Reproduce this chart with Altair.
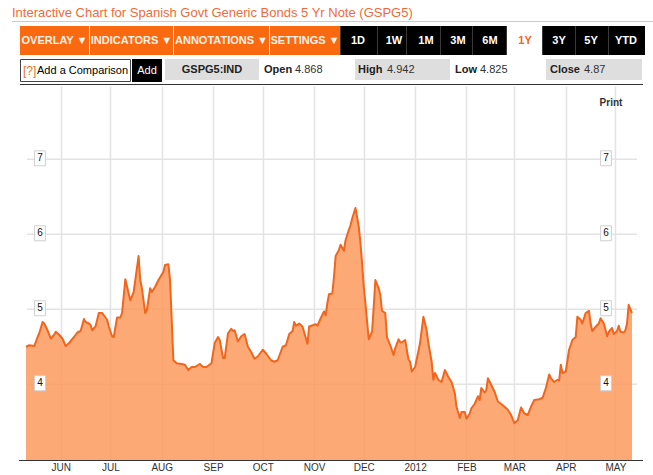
import altair as alt
import pandas as pd

# ---------------- data ----------------
dates = [
    "2011-05-11", "2011-05-13", "2011-05-16", "2011-05-18", "2011-05-19", "2011-05-21", "2011-05-22", "2011-05-24", "2011-05-26", "2011-05-28", "2011-05-29", "2011-05-31",
    "2011-06-02", "2011-06-04", "2011-06-06", "2011-06-09", "2011-06-11", "2011-06-13", "2011-06-15", "2011-06-16", "2011-06-18", "2011-06-19", "2011-06-20", "2011-06-22", "2011-06-24", "2011-06-26", "2011-06-29", "2011-06-30",
    "2011-07-02", "2011-07-03", "2011-07-05", "2011-07-07", "2011-07-08", "2011-07-10", "2011-07-12", "2011-07-13", "2011-07-15", "2011-07-16", "2011-07-18", "2011-07-19", "2011-07-20", "2011-07-22", "2011-07-23", "2011-07-25", "2011-07-26", "2011-07-28", "2011-07-30",
    "2011-08-02", "2011-08-03", "2011-08-05", "2011-08-06", "2011-08-07", "2011-08-08", "2011-08-10", "2011-08-13", "2011-08-15", "2011-08-17", "2011-08-19", "2011-08-21", "2011-08-24", "2011-08-26", "2011-08-28", "2011-08-31",
    "2011-09-02", "2011-09-04", "2011-09-05", "2011-09-07", "2011-09-08", "2011-09-10", "2011-09-12", "2011-09-13", "2011-09-14", "2011-09-16", "2011-09-18", "2011-09-20", "2011-09-22", "2011-09-24", "2011-09-26", "2011-09-28",
    "2011-10-01", "2011-10-03", "2011-10-06", "2011-10-08", "2011-10-10", "2011-10-13", "2011-10-15", "2011-10-17", "2011-10-19", "2011-10-20", "2011-10-21", "2011-10-23", "2011-10-25", "2011-10-28", "2011-10-29",
    "2011-11-02", "2011-11-03", "2011-11-05", "2011-11-07", "2011-11-08", "2011-11-09", "2011-11-10", "2011-11-12", "2011-11-13", "2011-11-14", "2011-11-16", "2011-11-17", "2011-11-19", "2011-11-20", "2011-11-22", "2011-11-23", "2011-11-24", "2011-11-26", "2011-11-28", "2011-11-29", "2011-11-30",
    "2011-12-01", "2011-12-02", "2011-12-04", "2011-12-06", "2011-12-07", "2011-12-08", "2011-12-10", "2011-12-11", "2011-12-12", "2011-12-14", "2011-12-15", "2011-12-17", "2011-12-19", "2011-12-20", "2011-12-22", "2011-12-23", "2011-12-24", "2011-12-26", "2011-12-28", "2011-12-29", "2011-12-30",
    "2012-01-01", "2012-01-04", "2012-01-06", "2012-01-08", "2012-01-09", "2012-01-11", "2012-01-12", "2012-01-13", "2012-01-15", "2012-01-17", "2012-01-19", "2012-01-21", "2012-01-23", "2012-01-25", "2012-01-26", "2012-01-28", "2012-01-29", "2012-01-31",
    "2012-02-01", "2012-02-03", "2012-02-04", "2012-02-06", "2012-02-08", "2012-02-09", "2012-02-10", "2012-02-12", "2012-02-13", "2012-02-14", "2012-02-16", "2012-02-18", "2012-02-20", "2012-02-23", "2012-02-26", "2012-02-28",
    "2012-03-01", "2012-03-03", "2012-03-05", "2012-03-07", "2012-03-09", "2012-03-11", "2012-03-13", "2012-03-16", "2012-03-18", "2012-03-20", "2012-03-22", "2012-03-23", "2012-03-25", "2012-03-27", "2012-03-28", "2012-03-29", "2012-03-30",
    "2012-04-01", "2012-04-03", "2012-04-05", "2012-04-07", "2012-04-08", "2012-04-10", "2012-04-11", "2012-04-13", "2012-04-15", "2012-04-16", "2012-04-17", "2012-04-20", "2012-04-21", "2012-04-22", "2012-04-24", "2012-04-26", "2012-04-27", "2012-04-29", "2012-04-30",
    "2012-05-02", "2012-05-03", "2012-05-04", "2012-05-06", "2012-05-07", "2012-05-08", "2012-05-09", "2012-05-10", "2012-05-11",
]
yields = [
    4.50, 4.52, 4.51, 4.63, 4.68, 4.83, 4.81, 4.72, 4.61, 4.66, 4.70, 4.66,
    4.61, 4.51, 4.55, 4.63, 4.69, 4.71, 4.87, 4.83, 4.81, 4.79, 4.72, 4.77, 4.95, 4.95, 4.86, 4.77,
    4.64, 4.63, 4.89, 4.89, 4.95, 5.40, 5.21, 5.12, 5.23, 5.39, 5.71, 5.39, 5.28, 4.95, 4.99, 5.28, 5.23, 5.30, 5.39,
    5.50, 5.59, 5.60, 5.39, 4.86, 4.32, 4.28, 4.27, 4.26, 4.19, 4.23, 4.23, 4.27, 4.23, 4.23, 4.28,
    4.55, 4.63, 4.59, 4.35, 4.35, 4.68, 4.74, 4.71, 4.72, 4.57, 4.64, 4.67, 4.50, 4.43, 4.34, 4.37,
    4.46, 4.41, 4.32, 4.30, 4.32, 4.50, 4.52, 4.67, 4.71, 4.83, 4.78, 4.81, 4.77, 4.54, 4.77,
    4.80, 4.78, 4.88, 4.97, 4.92, 5.08, 5.20, 5.21, 5.43, 5.71, 5.79, 5.86, 5.78, 5.92, 6.06, 6.12, 6.21, 6.35, 6.10, 5.88, 5.61,
    5.30, 5.08, 4.60, 4.70, 5.03, 5.39, 5.28, 5.19, 4.98, 4.95, 4.63, 4.52, 4.39, 4.48, 4.60, 4.56, 4.56, 4.59, 4.33, 4.30, 4.17,
    4.23, 4.55, 4.90, 4.72, 4.55, 4.30, 4.06, 4.15, 4.06, 4.03, 4.19, 4.10, 4.03, 3.88, 3.70, 3.55, 3.63, 3.63,
    3.54, 3.61, 3.68, 3.74, 3.84, 3.79, 3.95, 3.89, 3.92, 4.08, 3.99, 3.90, 3.77, 3.72, 3.66, 3.59,
    3.48, 3.52, 3.69, 3.61, 3.59, 3.70, 3.79, 3.80, 3.82, 3.95, 4.13, 4.08, 4.03, 4.06, 4.05, 4.26, 4.15,
    4.17, 4.46, 4.59, 4.63, 4.90, 4.86, 4.81, 4.95, 4.98, 4.81, 4.71, 4.79, 4.81, 4.88, 4.81, 4.64, 4.70, 4.75, 4.67,
    4.71, 4.78, 4.70, 4.69, 4.72, 4.81, 5.06, 5.00, 4.95,
]
month_ticks = [(2011, m) for m in range(6, 13)] + [(2012, m) for m in range(1, 6)]
y_ticks = [4, 5, 6, 7]

title_text = "Interactive Chart for Spanish Govt Generic Bonds 5 Yr Note (GSPG5)"
menu_labels = ["OVERLAY \u25BC", "INDICATORS \u25BC", "ANNOTATIONS \u25BC", "SETTINGS \u25BC"]
range_labels = ["1D", "1W", "1M", "3M", "6M", "1Y", "3Y", "5Y", "YTD"]
ticker = "GSPG5:IND"
quote_names = ["Open", "High", "Low", "Close"]
quote_values = ["4.868", "4.942", "4.825", "4.87"]

# ---------------- layout ----------------
PX, PY = 26, 86          # plot origin on the page
W, H = 606, 374          # plot size
SANS = "Liberation Sans, Arial, sans-serif"
ORANGE = "#F96A10"
LINE_C = "#F0661E"

df = pd.DataFrame({"date": dates, "yield": yields})
one = pd.DataFrame({"k": [0]})

xscale = alt.Scale(type="utc",
                   domain=[alt.DateTime(year=2011, month=5, date=11, utc=True),
                           alt.DateTime(year=2012, month=5, date=11, utc=True)])
yscale = alt.Scale(domain=[2.99, 7.977], nice=False, zero=False)

xaxis = alt.Axis(
    values=[alt.DateTime(year=y, month=m, date=1, utc=True) for y, m in month_ticks],
    labelExpr="utcFormat(datum.value, '%m') == '01' ? utcFormat(datum.value, '%Y') : upper(utcFormat(datum.value, '%b'))",
    grid=True, gridColor="#e3e3e3", gridWidth=1.5, domain=False, ticks=False,
    labelFont=SANS, labelFontSize=10, labelColor="#333333", labelPadding=7,
    labelBaseline="middle", labelFlush=False, labelOverlap=False, title=None,
)


def box(x0, y0, x1, y1, fill, stroke=None, sw=1.0):
    kw = dict(fill=fill, strokeWidth=0)
    if stroke:
        kw.update(stroke=stroke, strokeWidth=sw)
    return alt.Chart(one).mark_rect(**kw).encode(
        x=alt.value(x0 - PX), x2=alt.value(x1 - PX),
        y=alt.value(y0 - PY), y2=alt.value(y1 - PY))


def label(x, y, s, size=11, color="#000000", bold=False, align="left"):
    return alt.Chart(one).mark_text(
        text=s, fontSize=size, color=color, font=SANS,
        fontWeight="bold" if bold else "normal", align=align, baseline="middle",
    ).encode(x=alt.value(x - PX), y=alt.value(y - PY))


def hline(x0, x1, y, color, sw=1.0):
    return alt.Chart(one).mark_rule(color=color, strokeWidth=sw).encode(
        x=alt.value(x0 - PX), x2=alt.value(x1 - PX), y=alt.value(y - PY))


layers = []

# horizontal grid lines
ydf = pd.DataFrame({"v": y_ticks})
layers.append(alt.Chart(ydf).mark_rule(color="#e3e3e3", strokeWidth=1.5).encode(
    y=alt.Y("v:Q", scale=yscale, axis=None), x=alt.value(1), x2=alt.value(611)))

# area + line
layers.append(alt.Chart(df).mark_area(color="#FB9A5E", opacity=0.85).encode(
    x=alt.X("date:T", scale=xscale, axis=xaxis),
    y=alt.Y("yield:Q", scale=yscale, axis=None),
    y2=alt.datum(2.99)))
layers.append(alt.Chart(df).mark_line(color=LINE_C, strokeWidth=2, strokeJoin="round").encode(
    x=alt.X("date:T", scale=xscale),
    y=alt.Y("yield:Q", scale=yscale)))

# y labels in little boxes (left and right)
BOX = "M-0.72,-1L0.72,-1L0.72,1L-0.72,1Z"
for xc in (14, 580):
    layers.append(alt.Chart(ydf).mark_point(
        shape=BOX, size=225, filled=True, fill="white", stroke="#cfcfcf", strokeWidth=1, opacity=1,
    ).encode(y=alt.Y("v:Q", scale=yscale), x=alt.value(xc), yOffset=alt.value(-1)))
    layers.append(alt.Chart(ydf).mark_text(
        font=SANS, fontSize=10, color="#111111", align="center", baseline="middle", dy=-1,
    ).encode(y=alt.Y("v:Q", scale=yscale), x=alt.value(xc), text="v:Q"))

# bottom axis line
layers.append(hline(19, 643, 460.5, "#333333", 1))

# title and underline
layers.append(label(12, 13, title_text, size=13, color="#EF6A3A"))
layers.append(hline(12, 653, 21.5, "#cccccc", 1))

# toolbar: orange menus
menu_spans = [(20, 89), (90, 173), (174, 269), (270, 340)]
for txt, (a, b) in zip(menu_labels, menu_spans):
    layers.append(box(a, 26, b, 55, ORANGE))
    layers.append(label((a + b) / 2, 41, txt, size=11, color="#FFF1E6", bold=True, align="center"))

# toolbar: range buttons
layers.append(box(340, 26, 507, 55, "#3a3a3a"))
layers.append(box(542, 26, 645, 55, "#3a3a3a"))
range_spans = [(341, 377), (378, 406), (407, 440), (441, 472), (473, 506),
               (507, 542), (543, 575), (576, 608), (609, 645)]
range_centers = [358, 394, 426, 458, 490, 525, 559, 591, 626]
for txt, (a, b), c in zip(range_labels, range_spans, range_centers):
    if txt == "1Y":
        layers.append(box(a, 26, b, 55, "white"))
        layers.append(label(c, 41, txt, size=11, color="#F26522", bold=True, align="center"))
    else:
        layers.append(box(a, 26, b, 55, "#000000"))
        layers.append(label(c, 41, txt, size=11, color="white", bold=True, align="center"))

# second row
layers.append(box(20.5, 59.5, 130.5, 81.5, "white", stroke="#444444", sw=1))
layers.append(label(23, 70.5, "[?]", size=12, color="#E8731E"))
layers.append(label(37, 70.5, "Add a Comparison", size=11, color="#000000"))
layers.append(box(132, 59, 162, 82, "#000000"))
layers.append(label(147, 70.5, "Add", size=11, color="white", align="center"))
layers.append(box(165, 59, 259, 80, "#dedede"))
layers.append(label(212, 70, ticker, size=11, color="#222222", bold=True, align="center"))
layers.append(box(355, 59, 450, 80, "#dedede"))
layers.append(box(546, 59, 642, 80, "#dedede"))
name_x = [264, 358, 455, 550]
val_x = [295, 387, 480, 584]
for n, v, nx, vx in zip(quote_names, quote_values, name_x, val_x):
    layers.append(label(nx, 70, n, size=11, color="#222222", bold=True))
    layers.append(label(vx, 70, v, size=11, color="#333333"))
layers.append(hline(20, 643, 84.5, "#333333", 1))

# print link
layers.append(label(611, 103, "Print", size=10, color="#333333", bold=True, align="center"))

chart = alt.layer(*layers).properties(
    width=W, height=H,
    padding={"left": PX, "top": PY, "right": 653 - PX - W, "bottom": 475 - PY - H},
    autosize=alt.AutoSizeParams(type="none"),
    background="white",
).configure_view(stroke=None)

chart.save("out.html", embed_options={"renderer": "svg", "actions": False})
